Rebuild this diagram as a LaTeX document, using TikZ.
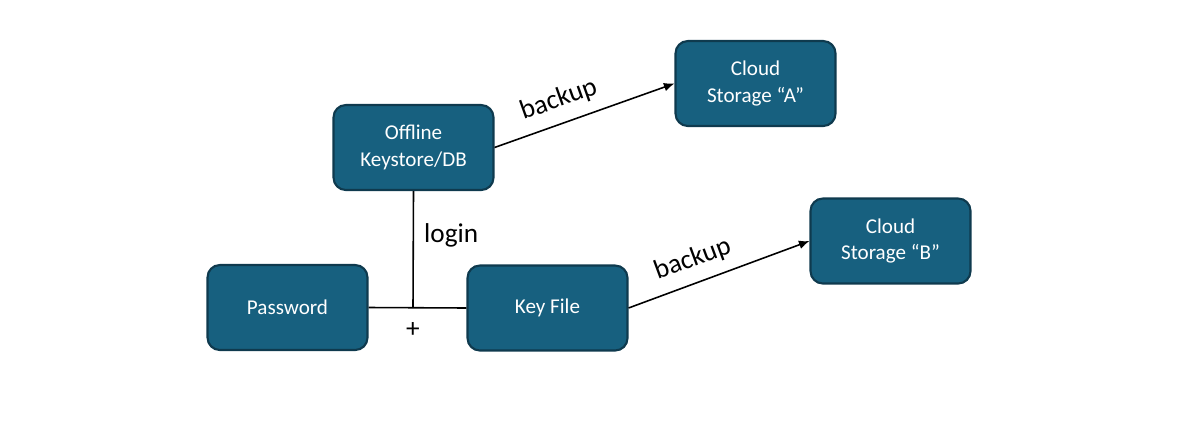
\documentclass[tikz,border=0pt]{standalone}
\usepackage{fontspec}
\setmainfont{Carlito}
\usetikzlibrary{arrows.meta}
\definecolor{boxfill}{HTML}{17607F}
\definecolor{boxdraw}{HTML}{0F3A4E}
\begin{document}
\begin{tikzpicture}[x=0.02cm,y=-0.02cm,
  box/.style={draw=boxdraw,line width=1.2pt,fill=boxfill,rounded corners=7pt,minimum width=3.2cm,minimum height=1.7cm,text=white,font=\fontsize{12}{15}\selectfont,align=center,inner sep=0pt},
  lbl/.style={font=\fontsize{15.5}{18}\selectfont},
  conn/.style={line width=0.9pt},
  arr/.style={conn,-{Latex[length=6pt,width=5pt]}}]
\useasboundingbox (0,0) rectangle (1200,430);
\node[box] (off) at (413.5,147.5) {Offline\\Keystore/DB};
\node[box] (ca) at (755.5,83.5) {Cloud\\Storage “A”};
\node[box] (cb) at (890.5,241) {Cloud\\Storage “B”};
\node[box] (pw) at (287.5,307.5) {Password};
\node[box] (kf) at (547.5,308) {Key File};
\coordinate (j) at (413,307.5);
\draw[arr] (off.east) -- (ca.west) node[lbl,pos=0.4,above=3pt,sloped] {backup};
\draw[arr] (kf.east) -- (cb.west) node[lbl,pos=0.4,above=3pt,sloped] {backup};
\draw[conn] (pw.east) -- (kf.west);
\draw[conn] (off.south) -- (j);
\node[lbl,anchor=west] (login) at (418,235) {login};
\node[lbl] (plus) at (413,330) {+};
\end{tikzpicture}
\end{document}
